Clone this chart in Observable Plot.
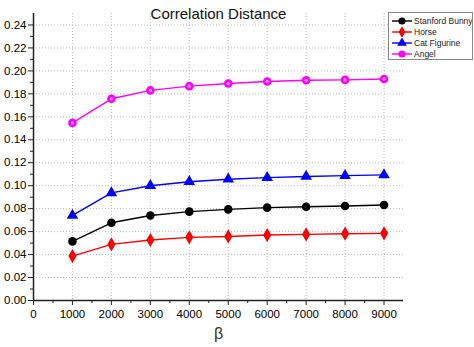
<!DOCTYPE html>
<html><head><meta charset="utf-8">
<script src="https://cdn.jsdelivr.net/npm/d3@7"></script>
<script src="https://cdn.jsdelivr.net/npm/@observablehq/plot@0.6"></script>
<style>
body{margin:0;background:#fff;font-family:"Liberation Sans",Arial,sans-serif;}
#wrap{position:relative;width:474px;height:347px;}
#legend{position:absolute;left:388px;top:12px;width:85px;height:48px;border:1px solid #888;background:#fff;box-sizing:border-box;padding:2px 0 0 2px;overflow:hidden;}
.row{display:flex;align-items:center;height:11px;font-size:8.5px;color:#222;white-space:nowrap;}
.row svg{margin-right:1px;flex:none;}
</style></head>
<body><div id="wrap"><div id="chart"></div><div id="legend"></div></div>
<script>
const betas = [1000,2000,3000,4000,5000,6000,7000,8000,9000];
const seriesNames = ["Stanford Bunny","Horse","Cat Figurine","Angel"];
const bunny = [0.0515,0.0677,0.0740,0.0774,0.0794,0.0809,0.0817,0.0823,0.0832];
const horse = [0.0387,0.0489,0.0527,0.0550,0.0558,0.0570,0.0576,0.0582,0.0585];
const cat   = [0.0742,0.0937,0.1000,0.1035,0.1056,0.1070,0.1080,0.1088,0.1094];
const angel = [0.1547,0.1757,0.1830,0.1867,0.1890,0.1908,0.1918,0.1922,0.1930];
const colors = ["#000000","#ff0000","#0000ff","#ff00ff"];
const symbols = ["circle","diamond","triangle","circle"];
const xTicks = [0,1000,2000,3000,4000,5000,6000,7000,8000,9000];
const yTicks = [0,0.02,0.04,0.06,0.08,0.10,0.12,0.14,0.16,0.18,0.20,0.22,0.24];

const allVals = [bunny,horse,cat,angel];
const data = [];
allVals.forEach((vals,i)=>vals.forEach((v,j)=>data.push({series:seriesNames[i],beta:betas[j],value:v})));
const xMinor = d3.range(500,9500,1000);
const yMinor = d3.range(0.01,0.25,0.02);

const marks = [
  Plot.gridX(xTicks.slice(1),{stroke:"#bbb",strokeOpacity:1,strokeDasharray:"1,2"}),
  Plot.gridY(yTicks.slice(1),{stroke:"#bbb",strokeOpacity:1,strokeDasharray:"1,2"}),
  Plot.axisX({ticks:xTicks,tickSize:5,tickPadding:4,tickFormat:d=>String(d),fontSize:11.5,label:null,stroke:"#222"}),
  Plot.axisX({ticks:xMinor,tickSize:3,tickFormat:()=>"",label:null,stroke:"#222"}),
  Plot.axisY({ticks:yTicks,tickSize:5,tickPadding:2,tickFormat:d3.format(".2f"),fontSize:11.5,label:null,stroke:"#222"}),
  Plot.axisY({ticks:yMinor,tickSize:3,tickFormat:()=>"",label:null,stroke:"#222"}),
  Plot.ruleY([0],{stroke:"#222",strokeWidth:1.5}),
  Plot.ruleX([0],{stroke:"#222",strokeWidth:1.5}),
  Plot.line(data,{x:"beta",y:"value",z:"series",stroke:"series",strokeWidth:1.4}),
  Plot.dot(data,{x:"beta",y:"value",fill:"series",symbol:"series",r:4.3}),
  Plot.dot(data.filter(d=>d.series==="Angel"),{x:"beta",y:"value",fill:"#ff99ff",r:1.6}),
  Plot.text(["Correlation Distance"],{frameAnchor:"top",dy:-5,fontSize:15,fill:"#111"}),
  Plot.text(["β"],{frameAnchor:"bottom",dy:38,fontSize:16,fill:"#333"})
];

const chart = Plot.plot({
  width:474,height:347,
  marginLeft:33,marginRight:71,marginTop:13,marginBottom:47,
  style:{fontFamily:"Liberation Sans, Arial, sans-serif",background:"#fff",overflow:"visible"},
  x:{domain:[0,9500],axis:null},
  y:{domain:[0,0.25],axis:null},
  color:{domain:seriesNames,range:colors},
  symbol:{domain:seriesNames,range:symbols},
  marks
});
document.getElementById("chart").appendChild(chart);

const legend = d3.select("#legend");
const symGen = {circle:d3.symbolCircle,diamond:d3.symbolDiamond,triangle:d3.symbolTriangle};
seriesNames.forEach((name,i)=>{
  const row = legend.append("div").attr("class","row");
  const svg = row.append("svg").attr("width",22).attr("height",10);
  svg.append("line").attr("x1",1).attr("x2",21).attr("y1",5).attr("y2",5).attr("stroke",colors[i]).attr("stroke-width",1.4);
  svg.append("path").attr("d",d3.symbol(symGen[symbols[i]],40)()).attr("transform","translate(11,5)").attr("fill",colors[i]);
  row.append("span").text(name);
});
</script></body></html>
